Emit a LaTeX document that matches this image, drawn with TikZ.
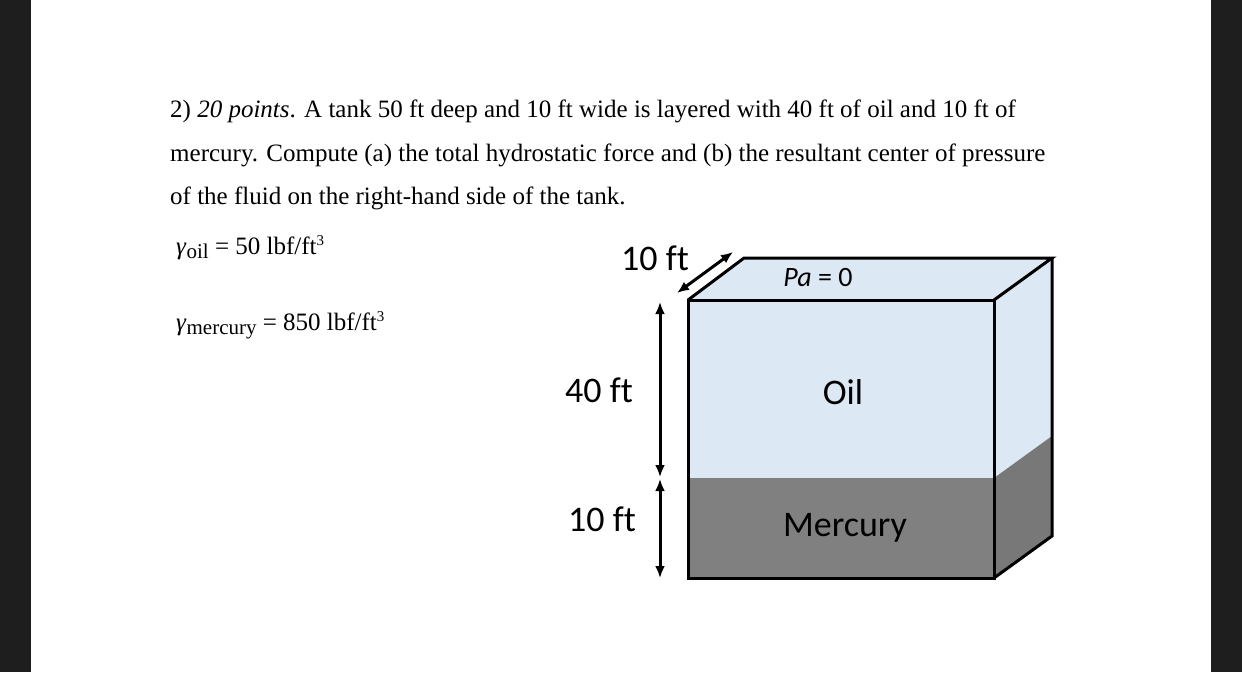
\documentclass[tikz,border=0pt]{standalone}
\usepackage{fontspec}
\setmainfont{Liberation Serif}
\newfontfamily\calfont[Ligatures={NoCommon}]{Carlito}
\usetikzlibrary{arrows.meta}
\definecolor{oilc}{RGB}{221,232,245}
\definecolor{hgc}{RGB}{128,128,128}
\definecolor{hgside}{RGB}{120,120,120}
\definecolor{frame}{RGB}{30,30,30}
\tikzset{
 txt/.style={anchor=base west,inner sep=0pt,font=\fontsize{25}{28}\selectfont},
 lab/.style={inner sep=0pt,font=\calfont\fontsize{36}{38}\selectfont},
 dim/.style={line width=3pt,{Latex[length=12pt,width=10pt]}-{Latex[length=12pt,width=10pt]}},
 edge/.style={line width=3pt,line join=miter}
}
\begin{document}
\begin{tikzpicture}[x=1pt,y=-1pt]
\useasboundingbox (0,0) rectangle (1242,672);
\fill[white] (0,0) rectangle (1242,672);
\fill[frame] (0,0) rectangle (31,672);
\fill[frame] (1211,0) rectangle (1242,672);
\node[txt] (l1) at (170,117) {2) \textit{20 points}. A tank 50 ft deep and 10 ft wide is layered with 40 ft of oil and 10 ft of};
\node[txt] (l2) at (170,161) {mercury. Compute (a) the total hydrostatic force and (b) the resultant center of pressure};
\node[txt] (l3) at (170,204) {of the fluid on the right-hand side of the tank.};
\node[txt] (g1) at (176,254) {\textit{γ}\raisebox{-4pt}{\fontsize{21}{22}\selectfont oil} = 50 lbf/ft\raisebox{9pt}{\fontsize{15}{16}\selectfont 3}};
\node[txt] (g2) at (176,330) {\textit{γ}\raisebox{-4pt}{\fontsize{21}{22}\selectfont mercury} = 850 lbf/ft\raisebox{9pt}{\fontsize{15}{16}\selectfont 3}};
% faces
\coordinate (A) at (688,300); \coordinate (B) at (994,300);
\coordinate (C) at (994,578); \coordinate (D) at (688,578);
\coordinate (M) at (688,478); \coordinate (N) at (994,478);
\coordinate (A2) at (744,258); \coordinate (B2) at (1052,258);
\coordinate (C2) at (1052,536); \coordinate (N2) at (1052,436);
\fill[oilc] (A) -- (A2) -- (B2) -- (B) -- cycle;
\fill[oilc] (A) rectangle (N);
\fill[hgc] (M) rectangle (C);
\fill[oilc] (B) -- (B2) -- (N2) -- (N) -- cycle;
\fill[hgside] (N) -- (N2) -- (C2) -- (C) -- cycle;
\draw[edge] (A) -- (B) -- (C) -- (D) -- cycle;
\draw[edge] (A) -- (A2) -- (B2) -- (B);
\draw[edge] (B2) -- (C2) -- (C);
% dimensions
\coordinate (t1) at (677,293); \coordinate (t2) at (733,252);
\draw[dim] (t1) -- (t2);
\coordinate (v1) at (660,302); \coordinate (v2) at (660,477);
\coordinate (v3) at (660,479); \coordinate (v4) at (660,578);
\draw[dim] (v1) -- (v2);
\draw[dim] (v3) -- (v4);
\node[lab] (w) at (655,258) {10 ft};
\node[lab] (h1) at (599,390) {40 ft};
\node[lab] (h2) at (602,519) {10 ft};
\node[lab] (oil) at (843,392) {Oil};
\node[lab,font=\calfont\fontsize{36}{38}\selectfont] (hg) at (845,528) {Mercury};
\node[lab,font=\calfont\fontsize{28}{30}\selectfont] (pa) at (818,278) {\textit{Pa} = 0};
\end{tikzpicture}
\end{document}
